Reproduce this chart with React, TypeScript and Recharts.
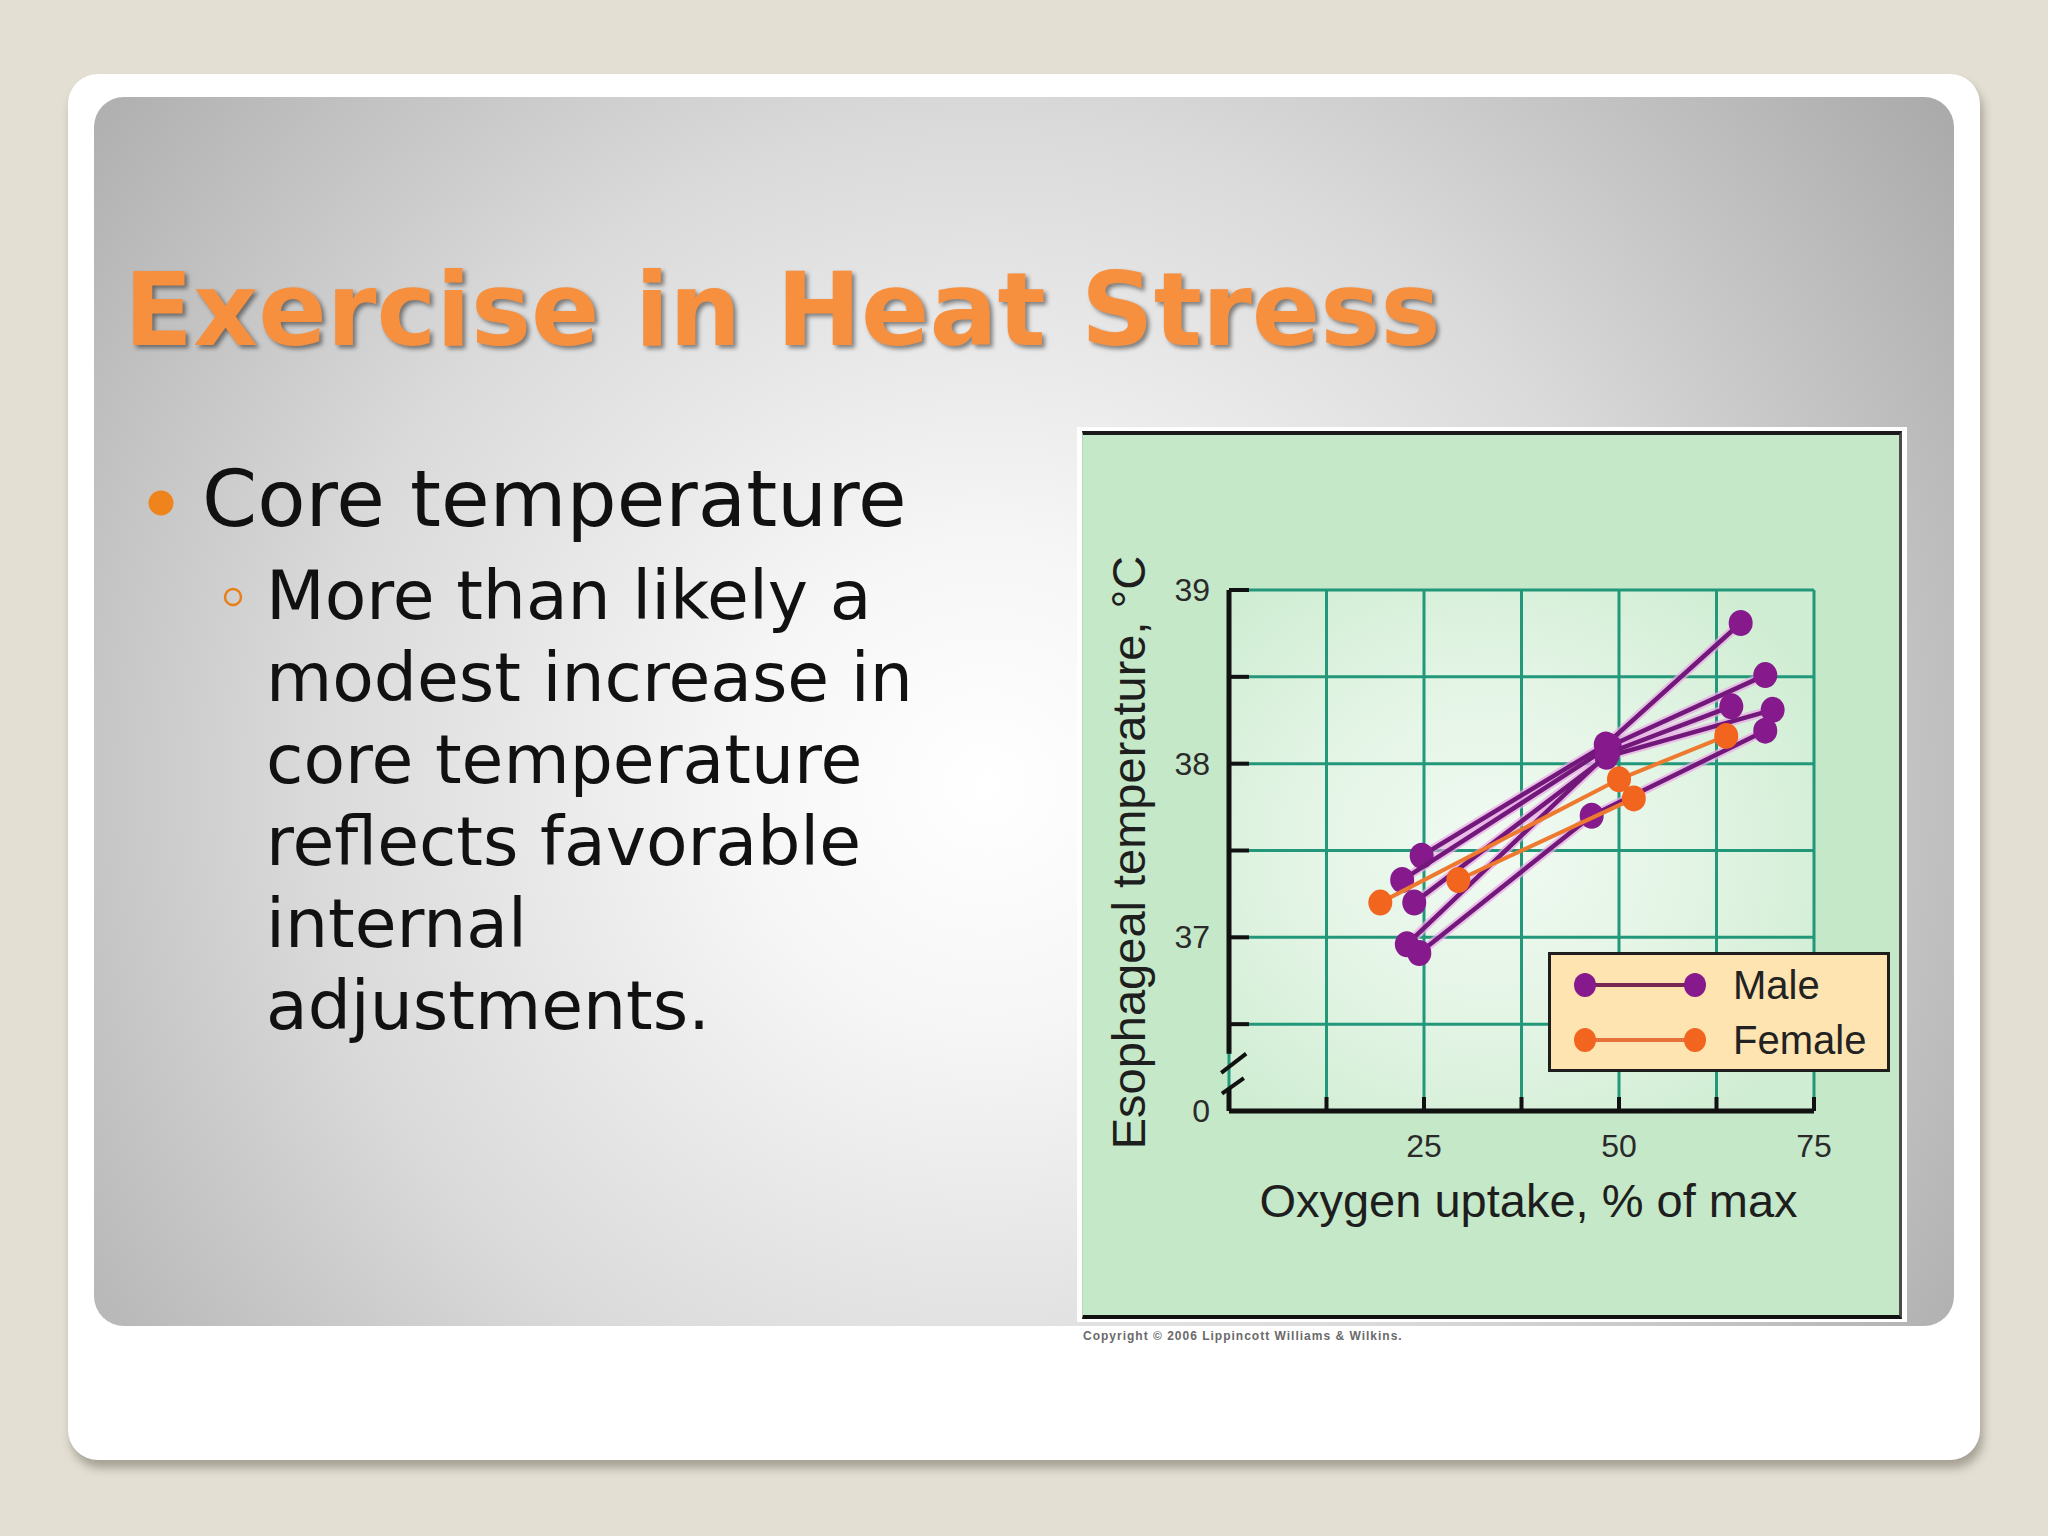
import React from 'react';
import { ScatterChart, Scatter, XAxis, YAxis, CartesianGrid, ReferenceLine, Legend } from 'recharts';

// ---------- data ----------
const xTicks = [0, 12.5, 25, 37.5, 50, 62.5, 75];
const xTickLabels = ['', '', '25', '', '50', '', '75'];
const yTicks = [36, 36.5, 37, 37.5, 38, 38.5, 39];
const yTickLabels = ['0', '', '37', '', '38', '', '39'];

const male1 = [{ x: 24.7, y: 37.47 }, { x: 48.3, y: 38.11 }, { x: 65.6, y: 38.81 }];
const male2 = [{ x: 22.2, y: 37.33 }, { x: 48.8, y: 38.1 }, { x: 68.75, y: 38.51 }];
const male3 = [{ x: 23.75, y: 37.2 }, { x: 48.4, y: 38.04 }, { x: 69.7, y: 38.31 }];
const male4 = [{ x: 22.8, y: 36.96 }, { x: 48.6, y: 38.06 }, { x: 64.4, y: 38.33 }];
const male5 = [{ x: 24.4, y: 36.91 }, { x: 46.5, y: 37.7 }, { x: 68.75, y: 38.19 }];
const female1 = [{ x: 19.4, y: 37.2 }, { x: 50.0, y: 37.91 }, { x: 63.75, y: 38.16 }];
const female2 = [{ x: 29.4, y: 37.33 }, { x: 51.9, y: 37.8 }];

const maleSeries = [male1, male2, male3, male4, male5];
const femaleSeries = [female1, female2];
const legendLabels = ['Male', 'Female'];

const yAxisUpper = [{ x: 0, y: 36.33 }, { x: 0, y: 39 }];
const yAxisLower = [{ x: 0, y: 36 }, { x: 0, y: 36.13 }];
const breakMark1 = [{ x: -1.0, y: 36.22 }, { x: 2.2, y: 36.33 }];
const breakMark2 = [{ x: -0.9, y: 36.1 }, { x: 1.9, y: 36.19 }];

const xLabel = 'Oxygen uptake, % of max';
const yLabel = 'Esophageal temperature, °C';

// ---------- styles ----------
const MALE = '#861a8c';
const MALE_LINE = '#72187a';
const FEMALE = '#f2651f';
const FEMALE_LINE = '#ee7a30';
const GRID = '#22977a';
const CHART_FONT = '"Liberation Sans", Arial, sans-serif';
const Y_GAP = 19;
const X_GAP = 22;

const YTick = (props: any) => {
  const { x, y, payload } = props;
  const i = yTicks.indexOf(payload.value);
  const label = yTickLabels[i];
  const ax = x + Y_GAP;
  return (
    <g>
      {i > 0 && <line x1={ax} y1={y} x2={ax + 20} y2={y} stroke="#111" strokeWidth={4} />}
      {label && (
        <text x={x} y={y} dy={11} textAnchor="end" fontSize={32} fill="#2a2a2a" fontFamily={CHART_FONT}>
          {label}
        </text>
      )}
    </g>
  );
};

const XTick = (props: any) => {
  const { x, y, payload } = props;
  const i = xTicks.indexOf(payload.value);
  const label = xTickLabels[i];
  const ay = y - X_GAP;
  return (
    <g>
      {i > 0 && <line x1={x} y1={ay} x2={x} y2={ay - 14} stroke="#111" strokeWidth={4} />}
      {label && (
        <text x={x} y={y} dy={24} textAnchor="middle" fontSize={32} fill="#2a2a2a" fontFamily={CHART_FONT}>
          {label}
        </text>
      )}
    </g>
  );
};

const Dot = (color: string) => (p: any) => (
  <ellipse cx={p.cx} cy={p.cy} rx={12} ry={13} fill={color} />
);
const NoDot = () => <g />;

const renderLegend = () => (
  <div
    style={{
      width: 342,
      height: 120,
      boxSizing: 'border-box',
      border: '3px solid #1e1e1e',
      background: '#fde4b0',
    }}
  >
    <svg width={336} height={114}>
      {legendLabels.map((lab, i) => {
        const cy = 30 + i * 55;
        const dot = i === 0 ? MALE : FEMALE;
        const line = i === 0 ? '#7a2552' : '#e8703a';
        return (
          <g key={lab}>
            <line x1={40} y1={cy} x2={140} y2={cy} stroke={line} strokeWidth={4} />
            <ellipse cx={34} cy={cy} rx={11} ry={12} fill={dot} />
            <ellipse cx={144} cy={cy} rx={11} ry={12} fill={dot} />
            <text x={182} y={cy} dy={14} fontSize={40} fill="#222" fontFamily={CHART_FONT}>
              {lab}
            </text>
          </g>
        );
      })}
    </svg>
  </div>
);

function TempChart() {
  return (
    <ScatterChart width={818} height={884} margin={{ top: 157, right: 87, bottom: 106, left: 66 }}>
      <defs>
        <radialGradient id="plotGlow" cx="45%" cy="50%" r="65%">
          <stop offset="0%" stopColor="#f1faf2" />
          <stop offset="55%" stopColor="#e2f4e4" />
          <stop offset="100%" stopColor="#cfedd2" />
        </radialGradient>
      </defs>
      <CartesianGrid fill="url(#plotGlow)" stroke={GRID} strokeWidth={3} />
      <XAxis
        type="number"
        dataKey="x"
        domain={[0, 75]}
        ticks={xTicks}
        allowDataOverflow
        height={100}
        tickSize={0}
        tickMargin={X_GAP}
        tickLine={false}
        tick={<XTick />}
        axisLine={{ stroke: '#111', strokeWidth: 5 }}
        interval={0}
        label={{
          content: (p: any) => {
            const vb = p.viewBox;
            return (
              <text
                x={vb.x + vb.width / 2 + 7}
                y={vb.y + 106}
                textAnchor="middle"
                fontSize={47}
                fill="#1e1e1e"
                fontFamily={CHART_FONT}
              >
                {xLabel}
              </text>
            );
          },
        }}
      />
      <YAxis
        type="number"
        dataKey="y"
        domain={[36, 39]}
        ticks={yTicks}
        allowDataOverflow
        width={80}
        tickSize={0}
        tickMargin={Y_GAP}
        tickLine={false}
        axisLine={false}
        tick={<YTick />}
        interval={0}
        label={{
          content: (p: any) => {
            const vb = p.viewBox;
            const cx = vb.x - 21;
            const cy = vb.y + vb.height / 2 + 2;
            return (
              <text
                transform={`translate(${cx}, ${cy}) rotate(-90)`}
                textAnchor="middle"
                dominantBaseline="central"
                fontSize={47}
                fill="#1e1e1e"
                fontFamily={CHART_FONT}
              >
                {yLabel}
              </text>
            );
          },
        }}
      />
      <ReferenceLine segment={yAxisUpper} stroke="#111" strokeWidth={5} ifOverflow="visible" />
      <ReferenceLine segment={yAxisLower} stroke="#111" strokeWidth={5} ifOverflow="visible" />
      <ReferenceLine segment={breakMark1} stroke="#111" strokeWidth={4} ifOverflow="visible" />
      <ReferenceLine segment={breakMark2} stroke="#111" strokeWidth={4} ifOverflow="visible" />

      {maleSeries.map((d, i) => (
        <Scatter
          key={'mh' + i}
          data={d}
          line={{ stroke: '#e9a6e6', strokeWidth: 9, strokeOpacity: 0.7 }}
          lineType="joint"
          shape={NoDot}
          isAnimationActive={false}
        />
      ))}
      {maleSeries.map((d, i) => (
        <Scatter
          key={'m' + i}
          data={d}
          line={{ stroke: MALE_LINE, strokeWidth: 4.5 }}
          lineType="joint"
          shape={Dot(MALE)}
          isAnimationActive={false}
        />
      ))}
      {femaleSeries.map((d, i) => (
        <Scatter
          key={'f' + i}
          data={d}
          line={{ stroke: FEMALE_LINE, strokeWidth: 4 }}
          lineType="joint"
          shape={Dot(FEMALE)}
          isAnimationActive={false}
        />
      ))}
      <Legend
        content={renderLegend}
        layout="horizontal"
        verticalAlign="middle"
        align="center"
        wrapperStyle={{ position: 'absolute', left: 465, top: 519, width: 342, height: 120 }}
      />
    </ScatterChart>
  );
}

export default function App() {
  const body = '"DejaVu Sans", Verdana, sans-serif';
  const subLines = [
    'More than likely a',
    'modest increase in',
    'core temperature',
    'reflects favorable',
    'internal',
    'adjustments.',
  ];
  return (
    <div
      style={{
        position: 'absolute',
        left: 0,
        top: 0,
        width: 2048,
        height: 1536,
        overflow: 'hidden',
        background: '#e3e0d3',
        fontFamily: body,
      }}
    >
      <div
        style={{
          position: 'absolute',
          left: 68,
          top: 74,
          width: 1912,
          height: 1386,
          background: '#ffffff',
          borderRadius: 30,
          boxShadow: '3px 8px 10px rgba(90,85,70,0.45)',
        }}
      />
      <div
        style={{
          position: 'absolute',
          left: 94,
          top: 97,
          width: 1860,
          height: 1229,
          borderRadius: 30,
          background:
            'radial-gradient(ellipse 66% 98% at 48% 56%, #ffffff 0%, #f6f6f6 20%, #dadada 55%, #a6a6a6 100%)',
        }}
      />
      <div
        style={{
          position: 'absolute',
          left: 124,
          top: 260,
          fontSize: 101,
          lineHeight: '101px',
          fontWeight: 'bold',
          color: '#f7903e',
          whiteSpace: 'nowrap',
          textShadow: '3px 3px 4px rgba(0,0,0,0.45)',
        }}
      >
        Exercise in Heat Stress
      </div>
      <svg style={{ position: 'absolute', left: 0, top: 0 }} width={400} height={700}>
        <circle cx={161} cy={503} r={12.5} fill="#f0841c" />
        <circle cx={233} cy={597} r={8} fill="none" stroke="#e8801a" strokeWidth={2.5} />
      </svg>
      <div
        style={{
          position: 'absolute',
          left: 202,
          top: 460,
          fontSize: 79,
          lineHeight: '79px',
          color: '#111',
          whiteSpace: 'nowrap',
        }}
      >
        Core temperature
      </div>
      <div
        style={{
          position: 'absolute',
          left: 266,
          top: 555,
          fontSize: 68,
          lineHeight: '82px',
          color: '#111',
          whiteSpace: 'nowrap',
        }}
      >
        {subLines.map((l) => (
          <div key={l}>{l}</div>
        ))}
      </div>

      <div style={{ position: 'absolute', left: 1077, top: 427, width: 830, height: 895, background: '#ffffff' }} />
      <div
        style={{
          position: 'absolute',
          left: 1082,
          top: 431,
          width: 820,
          height: 888,
          boxSizing: 'border-box',
          background: '#c5e8c8',
          borderTop: '4px solid #1a1a1a',
          borderRight: '3px solid #4a4a4a',
          borderBottom: '4px solid #111',
          borderLeft: '1px solid #b5dab7',
        }}
      />
      <div style={{ position: 'absolute', left: 1083, top: 433 }}>
        <TempChart />
      </div>
      <div
        style={{
          position: 'absolute',
          left: 1083,
          top: 1329,
          fontSize: 12,
          fontWeight: 'bold',
          color: '#6a6a6a',
          fontFamily: CHART_FONT,
          letterSpacing: 1.0,
          whiteSpace: 'nowrap',
        }}
      >
        Copyright © 2006 Lippincott Williams &amp; Wilkins.
      </div>
    </div>
  );
}
